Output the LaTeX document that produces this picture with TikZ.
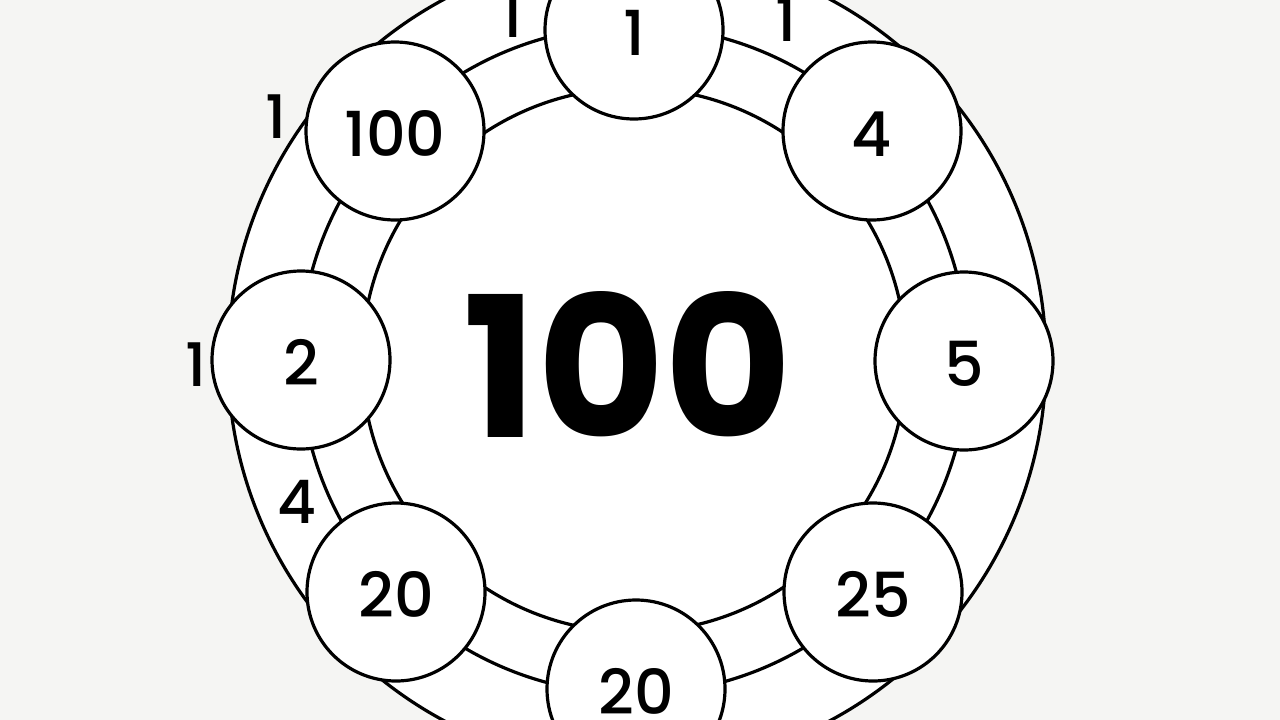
\documentclass[tikz,border=0pt]{standalone}
\usepackage{fontspec}
\setmainfont{Poppins}
\newfontfamily\pmedium{Poppins Medium}
\newfontfamily\pbold{Poppins Bold}
\tikzset{
  ring/.style={draw=black, line width=3.2pt},
  num/.style={circle, draw=black, line width=3.2pt, fill=white, minimum size=178pt, inner sep=0pt, text height=51pt, text depth=0pt, font=\pmedium\fontsize{62}{62}\selectfont},
  lbl/.style={font=\pmedium\fontsize{60}{60}\selectfont, inner sep=0pt}
}
\begin{document}
\begin{tikzpicture}[x=1pt,y=-1pt]
\useasboundingbox (0,0) rectangle (1280,720);
\clip (0,0) rectangle (1280,720);
\fill[color={rgb,255:red,245;green,245;blue,243}] (0,0) rectangle (1280,720);
\coordinate (c) at (634,360);
\fill[white] (637,360) circle[radius=409];
\draw[ring] (637,360) circle[radius=409];
\draw[ring] (c) circle[radius=334];
\draw[ring] (c) circle[radius=272];
\node[font=\pbold\fontsize{196}{196}\selectfont, inner sep=0pt] (center) at (628,364) {100};
\node[num] (n1) at (634,30) {1};
\node[num] (n4) at (872,131) {4};
\node[num] (n5) at (964,361) {5};
\node[num] (n25) at (873,592) {25};
\node[num] (n20b) at (636,689) {20};
\node[num] (n20) at (396,592) {20};
\node[num] (n2) at (301,360) {2};
\node[num] (n100) at (395,131) {100};
\node[lbl] (l1) at (512,16) {1};
\node[lbl] (l2) at (786,20) {1};
\node[lbl] (l3) at (276,117) {1};
\node[lbl] (l4) at (196,365) {1};
\node[lbl] (l5) at (297,502) {4};
\end{tikzpicture}
\end{document}
